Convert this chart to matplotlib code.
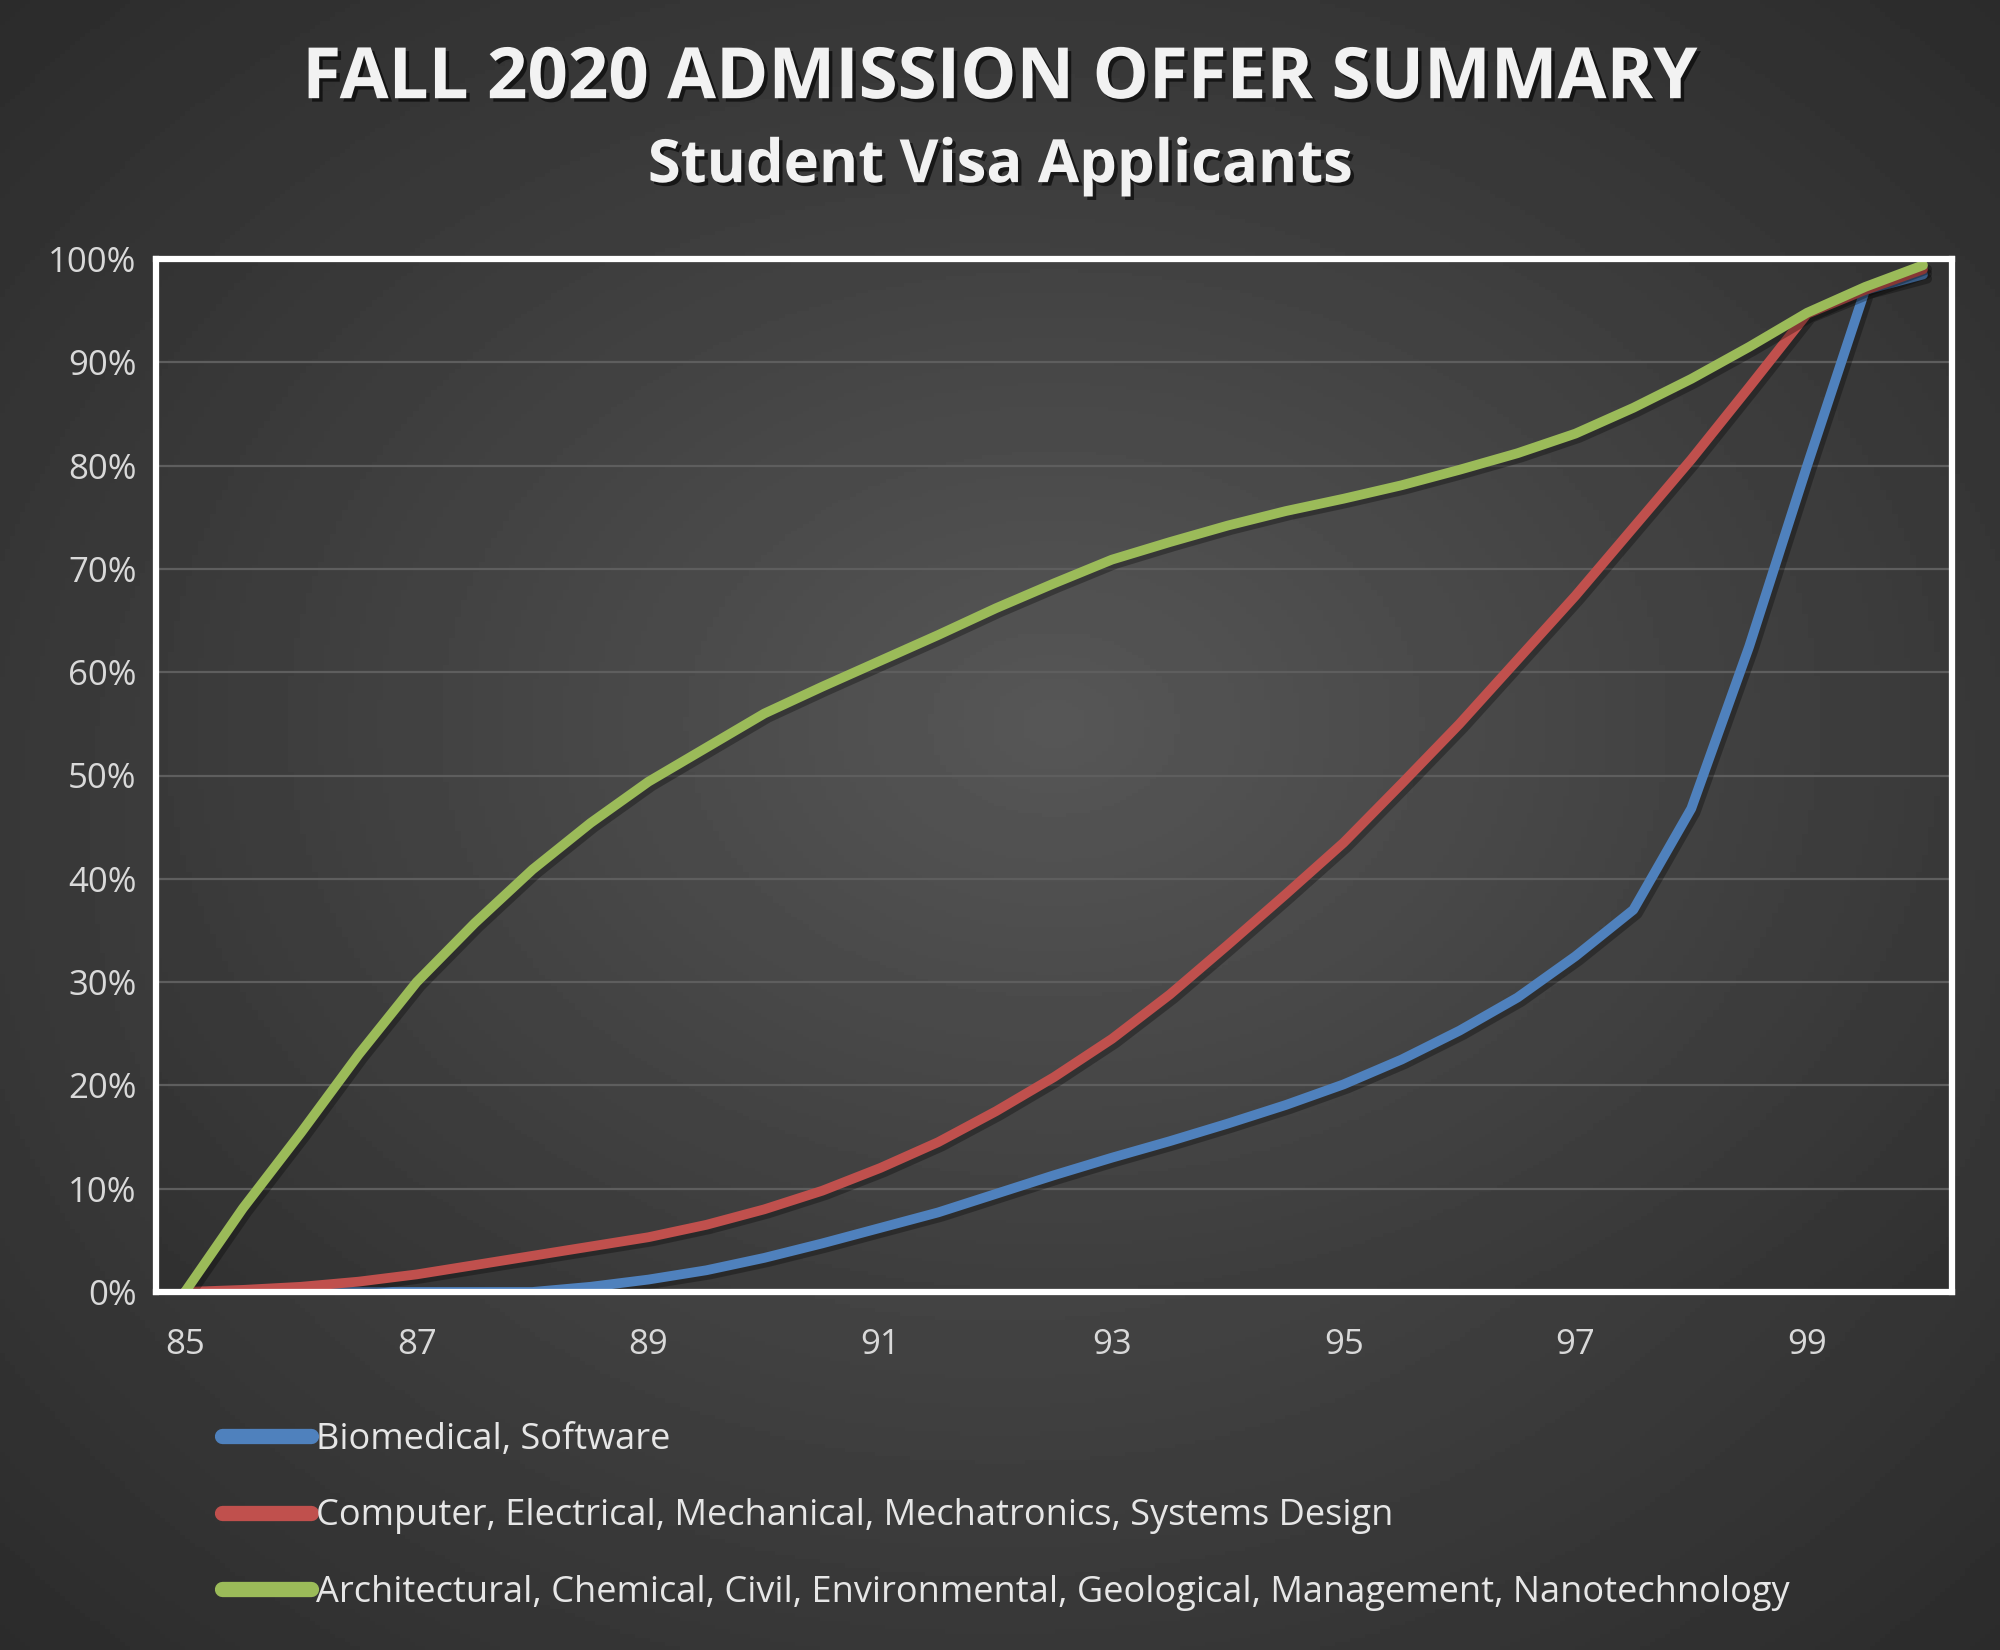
import numpy as np
import matplotlib
matplotlib.use("Agg")
import matplotlib.pyplot as plt
import matplotlib.patheffects as pe
from matplotlib.ticker import PercentFormatter

plt.rcParams['font.family'] = ['Open Sans', 'DejaVu Sans']

# scores 85 .. 100 in half steps
scores = [85, 85.5, 86, 86.5, 87, 87.5, 88, 88.5, 89, 89.5, 90, 90.5, 91, 91.5, 92, 92.5,
          93, 93.5, 94, 94.5, 95, 95.5, 96, 96.5, 97, 97.5, 98, 98.5, 99, 99.5, 100]

biomed = [0, 0, 0, 0, 0, 0, 0, 0.5, 1.2, 2.1, 3.3, 4.7, 6.2, 7.7, 9.5, 11.3,
          13.0, 14.6, 16.3, 18.1, 20.1, 22.5, 25.3, 28.5, 32.5, 37.0, 46.8, 62.5, 80.0, 97.0, 98.5]
computer = [0, 0.2, 0.5, 1.0, 1.7, 2.6, 3.5, 4.4, 5.3, 6.5, 8.0, 9.8, 12.0, 14.5, 17.5, 20.8,
            24.5, 28.8, 33.6, 38.5, 43.5, 49.2, 55.0, 61.2, 67.4, 74.0, 80.6, 87.6, 94.7, 97.0, 99.0]
arch = [0, 8.1, 15.4, 23.0, 30.0, 35.7, 40.9, 45.4, 49.4, 52.7, 56.0, 58.6, 61.1, 63.6, 66.2, 68.6,
        70.9, 72.6, 74.2, 75.6, 76.8, 78.1, 79.6, 81.2, 83.1, 85.6, 88.4, 91.5, 94.8, 97.3, 99.4]

labels = ["Biomedical, Software",
          "Computer, Electrical, Mechanical, Mechatronics, Systems Design",
          "Architectural, Chemical, Civil, Environmental, Geological, Management, Nanotechnology"]
colors = ["#4f81bd", "#c0504d", "#9bbb59"]
xticks = [85, 87, 89, 91, 93, 95, 97, 99]

fig = plt.figure(figsize=(20, 16.5), dpi=100)

# radial gradient background for the whole figure
bg = fig.add_axes([0, 0, 1, 1], zorder=-10)
yy, xx = np.mgrid[0:1:400j, 0:1:400j]
r = np.sqrt(((xx - 0.5) / 0.75) ** 2 + ((yy - 0.5) / 0.75) ** 2)
bg.imshow(0.33 - 0.17 * np.clip(r, 0, 1), cmap='gray', vmin=0, vmax=1,
          extent=[0, 1, 0, 1], aspect='auto', origin='lower')
bg.axis('off')

ax = fig.add_axes([0.078, 0.217, 0.898, 0.626])
ax.set_facecolor('none')
yy2, xx2 = np.mgrid[0:1:300j, 0:1:300j]
r2 = np.sqrt(((xx2 - 0.5) / 0.7) ** 2 + ((yy2 - 0.55) / 0.9) ** 2)
ax.imshow(0.34 - 0.16 * np.clip(r2, 0, 1), cmap='gray', vmin=0, vmax=1,
          extent=[0, 1, 0, 1], aspect='auto', origin='lower',
          transform=ax.transAxes, zorder=0)

shadow = [pe.SimpleLineShadow(offset=(3, -3), shadow_color='black', alpha=0.3), pe.Normal()]
for vals, c, lab in zip([biomed, computer, arch], colors, labels):
    ax.plot(scores, vals, color=c, lw=7, label=lab, zorder=3,
            solid_capstyle='round', path_effects=shadow)

ax.set_xlim(84.75, 100.25)
ax.set_ylim(0, 100)
ax.set_xticks(xticks)
ax.set_yticks(range(0, 101, 10))
ax.yaxis.set_major_formatter(PercentFormatter(decimals=0))
ax.tick_params(length=0, labelsize=25, colors='#d9d9d9', pad=14)
ax.tick_params(axis='x', pad=26)
ax.grid(axis='y', color='#5e5e5e', lw=1.6, zorder=1)
ax.set_axisbelow(True)
for s in ax.spines.values():
    s.set_color('white')
    s.set_linewidth(4.5)
    s.set_zorder(5)

txt_shadow = [pe.withSimplePatchShadow(offset=(2.5, -2.5), shadow_rgbFace='black', alpha=0.6)]
fig.text(0.5, 0.952, "FALL 2020 ADMISSION OFFER SUMMARY", ha='center', va='center',
         fontsize=51, fontweight='bold', color='#f2f2f2', path_effects=txt_shadow)
fig.text(0.5, 0.899, "Student Visa Applicants", ha='center', va='center',
         fontsize=43, fontweight='bold', color='#f2f2f2', path_effects=txt_shadow)

leg = fig.legend(loc='upper left', bbox_to_anchor=(0.104, 0.147), frameon=False,
                 fontsize=26, labelcolor='#e6e6e6', handlelength=2.45,
                 handletextpad=0.15, labelspacing=1.12, borderaxespad=0)
for h in leg.get_lines():
    h.set_linewidth(11)
    h.set_solid_capstyle('round')
    h.set_path_effects([])

fig.savefig("out.png", dpi=100)
